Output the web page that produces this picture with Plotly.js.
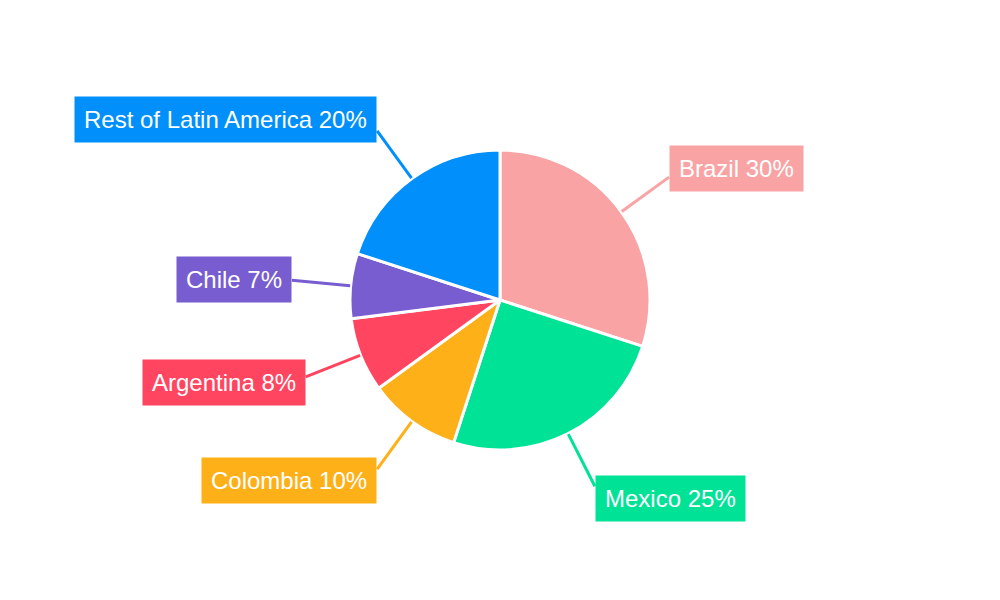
<!DOCTYPE html>
<html>
<head>
<meta charset="utf-8">
<script src="https://cdn.plot.ly/plotly-3.0.1.min.js"></script>
<style>
  html, body { margin: 0; padding: 0; background: #fff; }
  #chart { width: 1000px; height: 600px; }
</style>
</head>
<body>
<div id="chart"></div>
<script>
var countries = ['Brazil', 'Mexico', 'Colombia', 'Argentina', 'Chile', 'Rest of Latin America'];
var shares = [30, 25, 10, 8, 7, 20];
var colors = ['#F9A3A4', '#00E396', '#FEB019', '#FF4560', '#775DD0', '#008FFB'];

var W = 1000, H = 600, MT = 150, MB = 150;
var cx = W / 2, cy = MT + (H - MT - MB) / 2;
var R = (H - MT - MB) / 2;

function toPaperX(px) { return px / W; }
function toPaperY(py) { return (H - MB - py) / (H - MT - MB); }

var total = shares.reduce(function (a, b) { return a + b; }, 0);
var shapes = [];
var annotations = [];
var acc = 0;
for (var i = 0; i < shares.length; ++i) {
    // leader line from the slice edge out to the label box
    var mid = (acc + shares[i] / 2) / total * 2 * Math.PI;
    acc += shares[i];
    var s = Math.sin(mid), c = Math.cos(mid);
    var x0 = cx + (R + 0.5) * s, y0 = cy - (R + 0.5) * c;
    var x1 = cx + 209 * s, y1 = cy - 209 * c;
    shapes.push({
        type: 'line', xref: 'paper', yref: 'paper',
        x0: toPaperX(x0), y0: toPaperY(y0), x1: toPaperX(x1), y1: toPaperY(y1),
        line: { color: colors[i], width: 3 }
    });
    annotations.push({
        xref: 'paper', yref: 'paper',
        x: toPaperX(x1), y: toPaperY(y1 - 14 * c),
        xanchor: s >= 0 ? 'left' : 'right', yanchor: 'middle',
        text: countries[i] + ' ' + shares[i] + '%',
        showarrow: false,
        bgcolor: colors[i],
        borderpad: 9,
        font: { family: 'Liberation Sans, Arial, sans-serif', size: 24, color: '#ffffff' }
    });
}

var data = [{
    type: 'pie',
    labels: countries,
    values: shares,
    sort: false,
    direction: 'clockwise',
    rotation: 0,
    marker: { colors: colors, line: { color: '#ffffff', width: 3 } },
    textinfo: 'none',
    hoverinfo: 'label+percent',
    showlegend: false
}];

var layout = {
    width: W,
    height: H,
    margin: { l: 0, r: 0, t: MT, b: MB },
    paper_bgcolor: '#ffffff',
    showlegend: false,
    shapes: shapes,
    annotations: annotations
};

Plotly.newPlot('chart', data, layout, { displayModeBar: false, staticPlot: true });
</script>
</body>
</html>
